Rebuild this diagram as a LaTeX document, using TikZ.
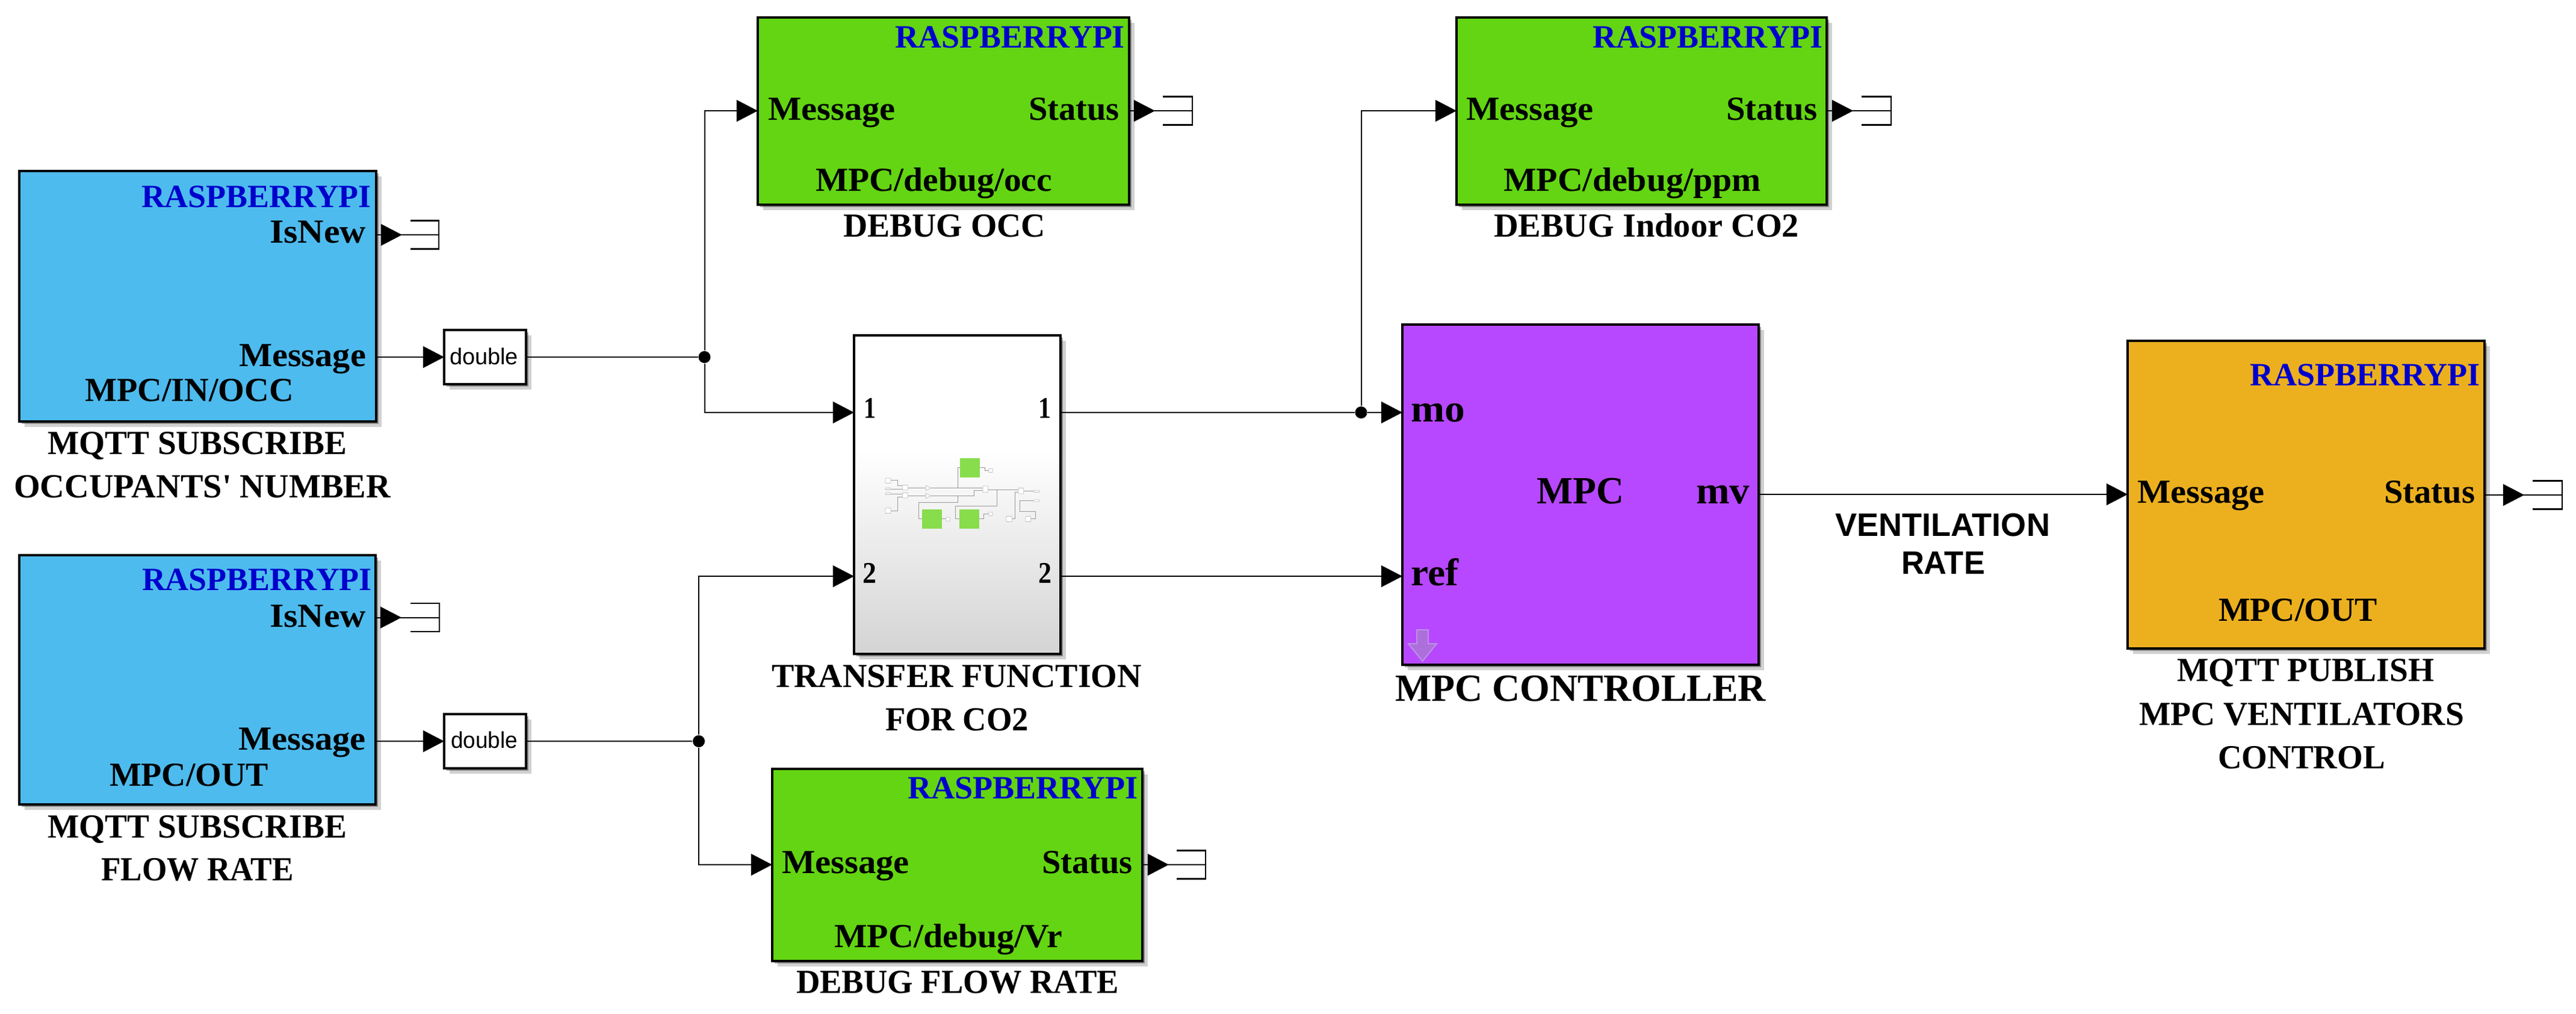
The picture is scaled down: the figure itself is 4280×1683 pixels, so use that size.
\documentclass[tikz,border=0pt]{standalone}
\usepackage{fontspec}
\usepackage{graphicx}
\setmainfont{Liberation Serif}
\newfontfamily\sansf{Liberation Sans}
\usetikzlibrary{arrows.meta,shadows}
\definecolor{cblue}{HTML}{4DBBEE}
\definecolor{cgreen}{HTML}{63D512}
\definecolor{cpurple}{HTML}{B748FF}
\definecolor{corange}{HTML}{ECB01F}
\definecolor{ctext}{HTML}{0000CC}
\definecolor{cthumb}{HTML}{88DD4C}
\definecolor{tfgrey}{HTML}{D4D4D4}
\definecolor{cglyph}{HTML}{AD6FDC}
\definecolor{cglyphline}{HTML}{BE8FE4}
\pgfdeclareverticalshading{tfshade}{100bp}{color(0bp)=(tfgrey); color(25bp)=(tfgrey); color(57bp)=(white); color(100bp)=(white)}
\newsavebox\lbox
% text fitted to a measured width (in picture units)
\newcommand\fitw[2]{\sbox\lbox{#2}\pgfmathsetmacro\lf{#1*0.25/\the\wd\lbox}\scalebox{\lf}[1]{\usebox\lbox}}
% name, x0, x1, baseline, style, text
\newcommand\lab[6]{\node[lbl,#5] (#1) at (#2,#4) {\fitw{(#3-#2)}{#6}};}
% name, style, x0, y0, x1, y1
\newcommand\blk[6]{\node[block,#2,minimum width={(#5-#3)*0.25pt},minimum height={(#6-#4)*0.25pt}] (#1) at ({(#3+#5)/2},{(#4+#6)/2}) {};}
% name, xport, y, xtip, xterm0, xterm1
\newcommand\term[6]{%
  \coordinate (#1p) at (#2,#3);
  \coordinate (#1a) at (#4,#3);
  \coordinate (#1t) at (#6,#3);
  \draw[wire] (#1p) -- (#1t);
  \draw[arrowwire] (#1p) -- (#1a);
  \draw[termline] (#5,#3-23.5) -- (#6,#3-23.5) -- (#6,#3+23.5) -- (#5,#3+23.5);
}
\tikzset{
  softshadow/.style={drop shadow={shadow xshift=2.2pt,shadow yshift=-2.2pt,opacity=.18,fill=black},
                     drop shadow={shadow xshift=1.1pt,shadow yshift=-1.1pt,opacity=.35,fill=black}},
  block/.style={draw=black,line width=.85pt,inner sep=0pt,outer sep=0pt,softshadow},
  lbl/.style={anchor=base west,inner sep=0pt,outer sep=0pt},
  sb/.style={font=\bfseries\fontsize{14}{16}\selectfont},
  rasp/.style={font=\bfseries\fontsize{13.5}{16}\selectfont,text=ctext},
  big/.style={font=\bfseries\fontsize{16}{19}\selectfont},
  num/.style={font=\bfseries\fontsize{12.5}{14}\selectfont},
  vent/.style={font=\sansf\bfseries\fontsize{13.5}{16}\selectfont},
  dbl/.style={font=\sansf\fontsize{9.5}{11}\selectfont},
  wire/.style={draw=black,line width=.5pt},
  arrowwire/.style={wire,-{Triangle[length=8.8pt,width=9pt]}},
  termline/.style={draw=black,line width=.6pt},
  dot/.style={circle,fill=black,inner sep=0pt,minimum size=5pt},
  thumbline/.style={draw=black!40,line width=.2pt},
  thumbbox/.style={draw=black!25,fill=white,line width=.2pt},
  thumbgreen/.style={fill=cthumb},
}
\begin{document}
\begin{tikzpicture}[x=0.25pt,y=-0.25pt]
\useasboundingbox (0,0) rectangle (4280,1683);
\fill[white] (0,0) rectangle (4280,1683);
% ---- blocks
\blk{blueA}{fill=cblue}{32}{284}{625}{700}
\blk{blueB}{fill=cblue}{32}{922}{624}{1336}
\blk{dblA}{fill=white,line width=.8pt}{738}{548}{874}{638}
\blk{dblB}{fill=white,line width=.8pt}{738}{1186}{874}{1276}
\blk{dbgOcc}{fill=cgreen}{1259}{29}{1876}{340}
\blk{dbgPpm}{fill=cgreen}{2420}{29}{3035}{340}
\blk{dbgVr}{fill=cgreen}{1283}{1277}{1898}{1596}
\blk{tf}{shade,shading=tfshade,line width=1.1pt}{1419}{557}{1762}{1086}
\blk{mpc}{fill=cpurple}{2330}{539}{2922}{1104}
\blk{pub}{fill=corange}{3535}{566}{4128}{1077}
% ---- thumbnail inside the transfer block
\begin{scope}[shift={(1380,520)},x=0.08333pt,y=-0.09568pt]
  \draw[thumbline] (300,724) -- (333,724) -- (333,749) -- (358,749);
  \draw[thumbline] (300,763) -- (358,763);
  \draw[thumbline] (300,784) -- (358,784);
  \draw[thumbline] (300,857) -- (333,857) -- (333,797) -- (358,797);
  \draw[thumbline] (385,758) -- (475,758);
  \draw[thumbline] (385,792) -- (475,792);
  \draw[thumbline] (500,759) -- (759,759);
  \draw[thumbline] (500,793) -- (715,793) -- (715,770) -- (759,770);
  \draw[thumbline] (633,759) -- (633,670) -- (646,670);
  \draw[thumbline] (633,793) -- (633,822) -- (438,822) -- (438,893) -- (457,893);
  \draw[thumbline] (785,767) -- (936,767);
  \draw[thumbline] (828,767) -- (828,838) -- (622,838) -- (622,893) -- (641,893);
  \draw[thumbline] (745,670) -- (770,670) -- (770,683) -- (788,683);
  \draw[thumbline] (556,893) -- (575,893);
  \draw[thumbline] (741,893) -- (764,893) -- (764,871) -- (788,871);
  \draw[thumbline] (962,772) -- (1012,772);
  \draw[thumbline] (904,893) -- (920,893) -- (920,776) -- (936,776);
  \draw[thumbline] (998,893) -- (1020,893) -- (1020,860) -- (944,860) -- (944,814) -- (1012,814);
  \fill[thumbgreen] (646,630) rectangle (745,713);
  \fill[thumbgreen] (457,852) rectangle (556,935);
  \fill[thumbgreen] (641,852) rectangle (741,935);
  \foreach \a/\b/\c/\d in {273/716/300/738,273/846/300/869,358/746/385/768,358/780/385/802,759/750/785/778,936/759/962/784,875/882/904/905,972/882/998/905,788/675/808/691,575/886/595/902,788/864/808/879,273/759/300/767,273/780/300/788,1012/769/1042/777,1012/810/1042/818}
    \draw[thumbbox,rounded corners=.2pt] (\a,\b) rectangle (\c,\d);
  \draw[thumbbox] (475,748) -- (500,759) -- (475,770) -- cycle;
  \draw[thumbbox] (475,782) -- (500,793) -- (475,804) -- cycle;
\end{scope}
% ---- arrow glyph in the MPC block
\path[fill=cglyph,draw=cglyphline,line width=.5pt]
  (2354,1046) -- (2373,1046) -- (2373,1069) -- (2387,1069) -- (2363.5,1098) -- (2340,1069) -- (2354,1069) -- cycle;
% ---- texts
\lab{rA}{235}{617}{344.5}{rasp}{RASPBERRYPI}
\lab{inA}{448}{608}{403}{sb}{IsNew}
\lab{msgA}{397}{608}{608}{sb}{Message}
\lab{topA}{141}{488}{666}{sb}{MPC/IN/OCC}
\lab{capAa}{79}{576}{754.4}{sb}{MQTT SUBSCRIBE}
\lab{capAb}{23}{649}{826}{sb}{OCCUPANTS\textquotesingle\ NUMBER}
\lab{rB}{236}{618}{980}{rasp}{RASPBERRYPI}
\lab{inB}{448}{608}{1041}{sb}{IsNew}
\lab{msgB}{396}{608}{1245}{sb}{Message}
\lab{topB}{182}{446}{1305}{sb}{MPC/OUT}
\lab{capBa}{79}{576}{1391}{sb}{MQTT SUBSCRIBE}
\lab{capBb}{168}{488}{1462.6}{sb}{FLOW RATE}
\lab{dA}{747}{861}{605}{dbl}{double}
\lab{dB}{749}{860}{1242}{dbl}{double}
\lab{rO}{1487}{1869}{79}{rasp}{RASPBERRYPI}
\lab{mO}{1276}{1488}{199}{sb}{Message}
\lab{sO}{1709}{1860}{199}{sb}{Status}
\lab{tO}{1355}{1748}{317}{sb}{MPC/debug/occ}
\lab{cO}{1401}{1737}{393}{sb}{DEBUG OCC}
\lab{rP}{2646}{3028}{79}{rasp}{RASPBERRYPI}
\lab{mP}{2436}{2648}{199}{sb}{Message}
\lab{sP}{2868}{3019.5}{199}{sb}{Status}
\lab{tP}{2498}{2926}{317}{sb}{MPC/debug/ppm}
\lab{cP}{2482}{2989}{393}{sb}{DEBUG Indoor CO2}
\lab{rV}{1508}{1891}{1326.5}{rasp}{RASPBERRYPI}
\lab{mV}{1299}{1511}{1450}{sb}{Message}
\lab{sV}{1731}{1882}{1450}{sb}{Status}
\lab{tV}{1386}{1765}{1573}{sb}{MPC/debug/Vr}
\lab{cV}{1323}{1859}{1649.5}{sb}{DEBUG FLOW RATE}
\lab{oneL}{1435}{1455}{694.5}{num}{1}
\lab{oneR}{1725}{1746}{694.5}{num}{1}
\lab{twoL}{1433}{1456}{968}{num}{2}
\lab{twoR}{1725}{1747}{968}{num}{2}
\lab{cTa}{1282}{1897}{1141}{sb}{TRANSFER FUNCTION}
\lab{cTb}{1471}{1709}{1213.5}{sb}{FOR CO2}
\lab{lMo}{2344}{2434}{700}{big}{mo}
\lab{lRef}{2344}{2423}{972}{big}{ref}
\lab{lMpc}{2553}{2698}{836}{big}{MPC}
\lab{lMv}{2818}{2907}{836}{big}{mv}
\lab{cM}{2318}{2934}{1164}{big}{MPC CONTROLLER}
\lab{vA}{3049.5}{3406}{890}{vent}{VENTILATION}
\lab{vB}{3159}{3298}{953}{vent}{RATE}
\lab{rU}{3738}{4121}{640}{rasp}{RASPBERRYPI}
\lab{mU}{3551}{3763}{835}{sb}{Message}
\lab{sU}{3961}{4112}{835}{sb}{Status}
\lab{tU}{3686}{3950}{1031}{sb}{MPC/OUT}
\lab{cUa}{3617.5}{4044.5}{1131}{sb}{MQTT PUBLISH}
\lab{cUb}{3554}{4094}{1204}{sb}{MPC VENTILATORS}
\lab{cUc}{3685}{3963}{1276.6}{sb}{CONTROL}
% ---- junctions and ports
\node[dot] (jA) at (1170.5,593) {};
\node[dot] (jB) at (1161,1231) {};
\node[dot] (jC) at (2261.5,685) {};
\coordinate (msgAout) at (625,593);
\coordinate (msgBout) at (624,1231);
\coordinate (dbgOccIn) at (1259,184);
\coordinate (dbgPpmIn) at (2420,184);
\coordinate (dbgVrIn) at (1283,1436);
\coordinate (tfIn1) at (1419,685);
\coordinate (tfIn2) at (1419,957);
\coordinate (tfOut1) at (1762,685);
\coordinate (tfOut2) at (1762,957);
\coordinate (mpcMo) at (2330,685);
\coordinate (mpcRef) at (2330,957);
\coordinate (mpcMv) at (2922,821);
\coordinate (pubIn) at (3535,821);
% ---- connectors
\draw[arrowwire] (msgAout) -- (dblA.west);
\draw[arrowwire] (msgBout) -- (dblB.west);
\draw[wire] (dblA.east) -- (jA);
\draw[wire] (dblB.east) -- (jB);
\draw[arrowwire] (jA) |- (dbgOccIn);
\draw[arrowwire] (jA) |- (tfIn1);
\draw[arrowwire] (jB) |- (tfIn2);
\draw[arrowwire] (jB) |- (dbgVrIn);
\draw[wire] (tfOut1) -- (jC);
\draw[arrowwire] (jC) -- (mpcMo);
\draw[arrowwire] (jC) |- (dbgPpmIn);
\draw[arrowwire] (tfOut2) -- (mpcRef);
\draw[arrowwire] (mpcMv) -- (pubIn);
% ---- terminators
\term{tA}{625}{390}{668}{682}{729}
\term{tB}{624}{1025.5}{667}{682}{730}
\term{tO}{1876}{184}{1919}{1932}{1981}
\term{tP}{3035}{184}{3079}{3093}{3142}
\term{tV}{1898}{1436}{1942}{1955}{2003}
\term{tU}{4128}{822}{4194}{4208}{4257}
\end{tikzpicture}
\end{document}
